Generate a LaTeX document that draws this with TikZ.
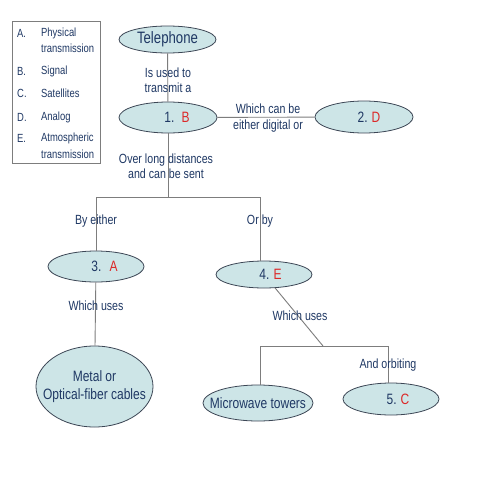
\documentclass[tikz,border=0pt]{standalone}
\usepackage{fontspec}
\setmainfont{Liberation Sans}[FakeStretch=0.8]
\usetikzlibrary{shapes.geometric}
\definecolor{txt}{RGB}{31,56,100}
\definecolor{ellfill}{RGB}{205,229,231}
\definecolor{ellline}{RGB}{60,70,85}
\definecolor{conn}{RGB}{125,125,125}
\definecolor{letr}{RGB}{220,40,40}
\begin{document}
\begin{tikzpicture}[x=1pt,y=-1pt,
  ell/.style={ellipse,draw=ellline,fill=ellfill,line width=0.8pt,inner sep=0pt,
    text=txt,font=\fontsize{15}{17}\selectfont,align=center},
  intext/.style={text=txt,font=\fontsize{15}{18}\selectfont,align=center,inner sep=0pt},
  lbl/.style={text=txt,font=\fontsize{13.3}{15.5}\selectfont,align=center,inner sep=0pt},
  leg/.style={text=txt,font=\fontsize{11.8}{15}\selectfont,anchor=west,inner sep=0pt},
  cn/.style={draw=conn,line width=0.9pt}]
\useasboundingbox[fill=white] (0,0) rectangle (480,480);
% legend
\node[draw=conn,line width=0.8pt,minimum width=88pt,minimum height=142pt,inner sep=0pt] (legbox) at (56,92) {};
\node[leg] (la) at (17,33) {A.};
\node[leg] (lat) at (41,33) {Physical};
\node[leg] (lat2) at (41,48) {transmission};
\node[leg] (lb) at (17,71) {B.};
\node[leg] (lbt) at (41,71) {Signal};
\node[leg] (lc) at (17,93) {C.};
\node[leg] (lct) at (41,93) {Satellites};
\node[leg] (ld) at (17,117) {D.};
\node[leg] (ldt) at (41,117) {Analog};
\node[leg] (le) at (17,138) {E.};
\node[leg] (let) at (41,138) {Atmospheric};
\node[leg] (let2) at (41,154) {transmission};
% nodes
\node[ell,minimum width=97pt,minimum height=27pt,font=\fontsize{16.5}{18}\selectfont] (tel) at (167.5,39.5) {Telephone};
\node[ell,minimum width=98pt,minimum height=31pt] (n1) at (168,117.5) {\hspace{18pt}1.\hspace{7pt}\textcolor{letr}{B}};
\node[ell,minimum width=98pt,minimum height=32pt] (n2) at (364,117) {\hspace{10pt}2.\hspace{4pt}\textcolor{letr}{D}};
\node[ell,minimum width=96pt,minimum height=31pt] (n3) at (96,266.5) {\hspace{17pt}3.\hspace{8pt}\textcolor{letr}{A}};
\node[ell,minimum width=96pt,minimum height=27pt] (n4) at (264,274.5) {\hspace{13pt}4.\hspace{4pt}\textcolor{letr}{E}};
\node[ell,minimum width=117pt,minimum height=81pt] (metal) at (94.5,386.5) {};
\node[intext] (metalt) at (metal.center) {Metal or\\Optical-fiber cables};
\node[ell,minimum width=110pt,minimum height=36pt] (mw) at (258,403) {};
\node[intext] (mwt) at (mw.center) {Microwave towers};
\node[ell,minimum width=96pt,minimum height=32pt] (n5) at (391,399) {\hspace{14pt}5.\hspace{4pt}\textcolor{letr}{C}};
% junctions
\coordinate (j1) at (168,197);
\coordinate (jl) at (96,197);
\coordinate (jr) at (260,197);
\coordinate (j2) at (323,346);
\coordinate (jm) at (260,346);
\coordinate (jo) at (388,346);
% connectors
\draw[cn] (tel) -- (n1);
\draw[cn] (n1) -- (n2);
\draw[cn] (n1) -- (j1);
\draw[cn] (jl) -- (jr);
\draw[cn] (jl) -- (n3);
\draw[cn] (jr) -- (jr |- n4.north);
\draw[cn] (n3) -- (metal);
\draw[cn] (n4) -- (j2);
\draw[cn] (jm) -- (jo);
\draw[cn] (jm) -- (jm |- mw.north);
\draw[cn] (jo) -- (jo |- n5.north);
% labels
\node[lbl] (l1) at (168,80) {Is used to\\transmit a};
\node[lbl] (l2) at (268,118) {Which can be\\either digital or};
\node[lbl] (l3) at (166,166) {Over long distances\\and can be sent};
\node[lbl] (l4) at (96,221) {By either};
\node[lbl] (l5) at (260,221) {Or by};
\node[lbl] (l6) at (96,306) {Which uses};
\node[lbl] (l7) at (300,316) {Which uses};
\node[lbl] (l8) at (388,365) {And orbiting};
\end{tikzpicture}
\end{document}
